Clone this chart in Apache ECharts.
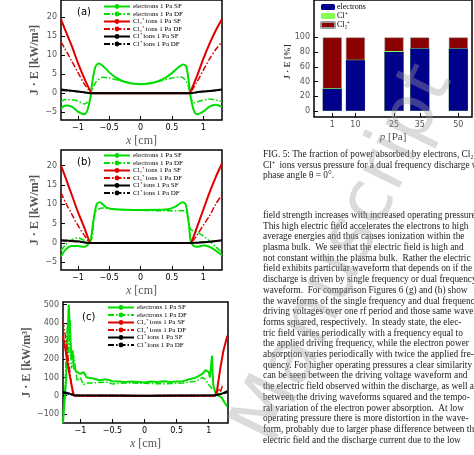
<!DOCTYPE html>
<html>
<head>
<meta charset="utf-8">
<script src="https://cdn.jsdelivr.net/npm/echarts@6/dist/echarts.min.js"></script>
<style>
  html, body { margin: 0; padding: 0; background: #fff; }
  #main { width: 474px; height: 455px; }
</style>
</head>
<body>
<div id="main"></div>
<script>
// panel (a): 1 Pa, J.E profiles [x, kW/m3]
var aElecSF = [[-1.27,-4],[-1.2,-3.2],[-1.1,-3.5],[-1.0,-4.8],[-0.9,-5.5],[-0.85,-4.5],[-0.8,-1],[-0.77,3],[-0.72,7],[-0.67,7.8],[-0.6,7.2],[-0.5,5.5],[-0.4,4.2],[-0.3,3.3],[-0.2,2.8],[-0.1,2.5],[0,2.4],[0.1,2.5],[0.2,2.8],[0.3,3.3],[0.4,4.1],[0.5,5.3],[0.6,6.8],[0.68,7.6],[0.73,7],[0.77,3],[0.8,-1],[0.85,-4.5],[0.9,-5.5],[1.0,-4.8],[1.1,-3.5],[1.2,-3.0],[1.3,-3.6]];
var aElecDF = [[-1.27,-2.2],[-1.2,-1.6],[-1.1,-1.7],[-1.0,-2.0],[-0.9,-2.8],[-0.82,-2],[-0.78,0.5],[-0.72,2.8],[-0.6,4.2],[-0.5,4.0],[-0.3,3.2],[0,2.4],[0.3,3.2],[0.5,4.0],[0.65,4.3],[0.75,2.5],[0.8,-1],[0.85,-2.5],[0.95,-2],[1.1,-1.5],[1.3,-2.2]];
var aCl2SF = [[-1.27,19.5],[-1.2,16.5],[-1.1,12.5],[-1.0,8],[-0.9,4],[-0.8,0.5],[-0.78,0],[0.78,0],[0.8,0.5],[0.9,4.5],[1.0,9],[1.1,13],[1.2,16.5],[1.3,19.5]];
var aCl2DF = [[-1.27,13.5],[-1.2,11.5],[-1.1,8.5],[-1.0,5.5],[-0.9,2.5],[-0.8,0.3],[-0.78,0],[0.78,0],[0.8,0.3],[0.9,3],[1.0,6],[1.1,9],[1.2,11.5],[1.3,13.5]];
var aClSF = [[-1.27,1],[-1.1,0.7],[-0.9,0.3],[-0.8,0.05],[0,0],[0.8,0.05],[0.9,0.3],[1.1,0.6],[1.3,1]];
var aClDF = [[-1.27,0.8],[-1.1,0.6],[-0.9,0.25],[-0.8,0.05],[0,0],[0.8,0.05],[0.9,0.3],[1.1,0.6],[1.3,0.9]];

// panel (b)
var bElecSF = [[-1.27,-3.5],[-1.2,-1.8],[-1.1,-0.8],[-1.0,-0.8],[-0.9,-1],[-0.85,-0.6],[-0.8,0.5],[-0.75,6],[-0.7,10],[-0.65,10.5],[-0.55,9.2],[-0.4,8.7],[0,8.5],[0.4,8.6],[0.55,9.3],[0.67,10.5],[0.72,10],[0.77,5],[0.8,0.5],[0.85,-0.8],[0.9,-1],[1.0,-0.7],[1.1,-1],[1.2,-2],[1.3,-3.2]];
var bElecDF = [[-1.27,-2],[-1.2,-0.5],[-1.1,0.8],[-1.0,1.3],[-0.92,0.8],[-0.85,0.2],[-0.78,1],[-0.72,8],[-0.6,9],[-0.4,8.6],[0,8.4],[0.4,8.3],[0.7,8.3],[0.76,6],[0.8,3.5],[0.9,2.8],[1.0,1.8],[1.1,0.5],[1.2,-1],[1.3,-2.4]];
var bCl2SF = [[-1.27,20],[-1.2,17],[-1.1,12.5],[-1.0,8],[-0.9,4],[-0.82,0.5],[-0.8,0],[0.8,0],[0.82,0.5],[0.9,4],[1.0,8.5],[1.1,13],[1.2,17],[1.3,20.5]];
var bCl2DF = [[-1.27,13],[-1.2,10.5],[-1.1,7.5],[-1.0,4.5],[-0.9,2],[-0.82,0.2],[-0.8,0],[0.8,0],[0.82,0.2],[0.9,2],[1.0,4.5],[1.1,7],[1.2,10],[1.3,12.5]];
var bClSF = [[-1.27,0.7],[-1.0,0.4],[-0.85,0.05],[0,0],[0.85,0.05],[1.1,0.3],[1.3,0.7]];
var bClDF = [[-1.27,0.6],[-1.0,0.3],[-0.85,0.05],[0,0],[0.85,0.05],[1.1,0.3],[1.3,0.6]];

// panel (c)
var cElecSF = [[-1.27,-150],[-1.25,-50],[-1.22,100],[-1.2,300],[-1.18,500],[-1.16,350],[-1.14,200],[-1.12,250],[-1.1,150],[-1.05,130],[-1.0,120],[-0.95,130],[-0.9,100],[-0.8,95],[-0.7,85],[-0.6,90],[-0.5,80],[-0.4,78],[-0.3,75],[-0.2,78],[-0.1,75],[0,72],[0.1,78],[0.2,75],[0.3,80],[0.4,75],[0.5,78],[0.6,80],[0.7,90],[0.8,100],[0.9,120],[0.95,140],[1.0,130],[1.02,100],[1.05,220],[1.07,60],[1.1,20],[1.15,0],[1.2,-10],[1.25,-40],[1.29,-60]];
var cElecDF = [[-1.27,-100],[-1.24,0],[-1.22,250],[-1.2,400],[-1.18,220],[-1.16,420],[-1.14,150],[-1.1,220],[-1.05,80],[-1.0,100],[-0.95,60],[-0.9,70],[-0.8,70],[-0.6,75],[-0.5,65],[-0.3,70],[0,68],[0.3,65],[0.6,70],[0.8,80],[0.9,100],[0.95,90],[1.0,60],[1.05,40],[1.1,30],[1.15,10],[1.29,20]];
var cCl2SF = [[-1.27,330],[-1.22,230],[-1.17,120],[-1.12,30],[-1.1,0],[1.1,0],[1.13,30],[1.18,150],[1.23,250],[1.29,330]];
var cCl2DF = [[-1.27,410],[-1.23,320],[-1.18,180],[-1.14,60],[-1.11,0],[1.11,0],[1.15,40],[1.18,20],[1.22,60]];
var cClSF = [[-1.27,20],[-1.2,15],[-1.1,3],[0,0],[1.1,3],[1.2,10],[1.29,25]];
var cClDF = [[-1.27,15],[-1.2,10],[-1.1,2],[0,0],[1.1,2],[1.2,8],[1.29,18]];

// bar chart: power fraction (%) vs pressure
var pressures = [1, 10, 25, 35, 50];
var fracElectrons = [30, 69, 80, 85, 85];
var fracClPlus = [1, 0.4, 1.5, 0.4, 0.6];
var fracCl2Plus = [69, 30.6, 18.5, 14.6, 14.4];

var xTicks = [-1, -0.5, 0, 0.5, 1];
var yTicksAB = [-5, 0, 5, 10, 15, 20];
var yTicksC = [-100, 0, 100, 200, 300, 400, 500];
var barTicks = [0, 20, 40, 60, 80, 100];

var names = ['electrons 1 Pa SF', 'electrons 1 Pa DF', 'Cl\u2082\u207a ions 1 Pa SF', 'Cl\u2082\u207a ions 1 Pa DF', 'Cl\u207a ions 1 Pa SF', 'Cl\u207a ions 1 Pa DF'];
var colors = ['#00dd00', '#00dd00', '#e00000', '#e00000', '#000', '#000'];
var dashDot = [6, 2, 1.5, 2];

var serif = 'Liberation Serif';
var sans = 'DejaVu Sans';

var chart = echarts.init(document.getElementById('main'));

function lineSeries(idx, datas, smooth) {
  return datas.map(function (d, i) {
    return {
      name: names[i], type: 'line', xAxisIndex: idx, yAxisIndex: idx,
      data: d, symbol: 'none', smooth: smooth, animation: false,
      lineStyle: { color: colors[i], width: i % 2 ? 1.5 : 2, type: i % 2 ? dashDot : 'solid' },
      itemStyle: { color: colors[i] }
    };
  });
}

function tickStyle(vals) {
  return { inside: true, length: 4, customValues: vals, lineStyle: { color: '#000' } };
}

function xAx(idx) {
  return {
    type: 'value', gridIndex: idx, min: -1.27, max: 1.3, position: 'bottom',
    name: '{i|x} [cm]', nameLocation: 'middle', nameGap: 15,
    nameTextStyle: { fontFamily: serif, fontSize: 12, rich: { i: { fontStyle: 'italic', fontFamily: serif, fontSize: 12 } } },
    axisLine: { show: false, onZero: false }, splitLine: { show: false },
    axisTick: tickStyle(xTicks),
    axisLabel: { fontSize: 8, color: '#000', fontFamily: sans, margin: 4, customValues: xTicks,
      formatter: function (v) { return String(v).replace('-', '\u2212'); } }
  };
}

function yAx(idx, mn, mx, ticks) {
  return {
    type: 'value', gridIndex: idx, min: mn, max: mx, position: 'left',
    name: 'J \u00b7 E [kW/m\u00b3]', nameLocation: 'middle', nameGap: idx == 2 ? 30 : 20,
    nameTextStyle: { fontFamily: serif, fontSize: 12, fontWeight: 'bold' },
    axisLine: { show: false, onZero: false }, splitLine: { show: false },
    axisTick: tickStyle(ticks),
    axisLabel: { fontSize: 8, color: '#555', fontFamily: sans, margin: 4, customValues: ticks,
      formatter: function (v) { return String(v).replace('-', '\u2212'); } }
  };
}

function legendAt(top, left) {
  return {
    data: names, orient: 'vertical', left: left, top: top, itemGap: 0.5,
    itemWidth: 26, itemHeight: 6, padding: 0, selectedMode: false,
    textStyle: { fontFamily: serif, fontSize: 7, color: '#000', padding: [0, 0, 0, -2] }
  };
}

var paragraph = [
  'field strength increases with increased operating pressure.',
  'This high electric field accelerates the electrons to high',
  'average energies and thus causes ionization within the',
  'plasma bulk.  We see that the electric field is high and',
  'not constant within the plasma bulk.  Rather the electric',
  'field exhibits particular waveform that depends on if the',
  'discharge is driven by single frequency or dual frequency',
  'waveform.  For comparison Figures 6 (g) and (h) show',
  'the waveforms of the single frequency and dual frequency',
  'driving voltages over one rf period and those same wave-',
  'forms squared, respectively.  In steady state, the elec-',
  'tric field varies periodically with a frequency equal to',
  'the applied driving frequency, while the electron power',
  'absorption varies periodically with twice the applied fre-',
  'quency. For higher operating pressures a clear similarity',
  'can be seen between the driving voltage waveform and',
  'the electric field observed within the discharge, as well as',
  'between the driving waveforms squared and the tempo-',
  'ral variation of the electron power absorption.  At low',
  'operating pressure there is more distortion in the wave-',
  'form, probably due to larger phase difference between the',
  'electric field and the discharge current due to the low'
];
var caption = [
  'FIG. 5: The fraction of power absorbed by electrons, Cl\u2082\u207a and',
  'Cl\u207a  ions versus pressure for a dual frequency discharge with',
  'phase angle \u03b8 = 0\u00b0.'
];

var graphics = [
  { type: 'text', left: 77, top: 7, style: { text: '(a)', font: '10px ' + sans, fill: '#000' } },
  { type: 'text', left: 77, top: 157, style: { text: '(b)', font: '10px ' + sans, fill: '#000' } },
  { type: 'text', left: 82, top: 312, style: { text: '(c)', font: '10px ' + sans, fill: '#000' } },
  { type: 'text', x: 288, y: 62, rotation: Math.PI / 2,
    style: { text: 'J \u00b7 E [%]', font: 'bold 9px ' + serif, fill: '#333', align: 'center', verticalAlign: 'middle' } }
];
caption.forEach(function (t, i) {
  graphics.push({ type: 'text', left: 263, top: 150 + i * 10.7, style: { text: t, font: '9.3px ' + serif, fill: '#222' } });
});
paragraph.forEach(function (t, i) {
  graphics.push({ type: 'text', left: 263, top: 211 + i * 10.7, style: { text: t, font: '9.3px ' + serif, fill: '#222' } });
});
graphics.push({
  type: 'text', x: 345, y: 255, rotation: 64 * Math.PI / 180, z: 100,
  style: { text: 'Manuscript', font: '74px ' + sans, fill: 'rgba(160,160,160,0.38)', align: 'center', verticalAlign: 'middle' }
});

// overlapping bars: total height per layer, drawn back to front
var topCl2 = pressures.map(function (p, i) { return [p, fracElectrons[i] + fracClPlus[i] + fracCl2Plus[i]]; });
var topCl = pressures.map(function (p, i) { return [p, fracElectrons[i] + fracClPlus[i]]; });
var topEl = pressures.map(function (p, i) { return [p, fracElectrons[i]]; });

var option = {
  backgroundColor: '#fff',
  animation: false,
  grid: [
    { left: 61, top: -2, width: 161, height: 122, show: true, borderColor: '#000', borderWidth: 1.5 },
    { left: 61, top: 150, width: 161, height: 120, show: true, borderColor: '#000', borderWidth: 1.5 },
    { left: 63, top: 302, width: 165, height: 121, show: true, borderColor: '#000', borderWidth: 1.5 },
    { left: 314, top: -1, width: 158, height: 118, show: true, borderColor: '#000', borderWidth: 1.5 }
  ],
  legend: [
    legendAt(3, 103), legendAt(152, 103), legendAt(304, 107),
    { data: ['electrons', 'Cl\u207a', 'Cl\u2082\u207a'], orient: 'vertical', left: 320, top: 3, itemGap: 1,
      itemWidth: 14, itemHeight: 6, padding: 0, selectedMode: false,
      textStyle: { fontFamily: serif, fontSize: 8, color: '#000', padding: [0, 0, 0, -3] } }
  ],
  xAxis: [xAx(0), xAx(1), xAx(2), {
    type: 'value', gridIndex: 3, min: -6.1, max: 55.3, position: 'bottom',
    name: '{i|p} [Pa]', nameLocation: 'middle', nameGap: 15,
    nameTextStyle: { fontFamily: serif, fontSize: 11, rich: { i: { fontStyle: 'italic', fontFamily: serif, fontSize: 11 } } },
    axisLine: { show: false, onZero: false }, splitLine: { show: false },
    axisTick: tickStyle(pressures),
    axisLabel: { fontSize: 8, color: '#555', fontFamily: sans, margin: 4, customValues: pressures }
  }],
  yAxis: [yAx(0, -7, 24.5, yTicksAB), yAx(1, -7, 24, yTicksAB), yAx(2, -150, 515, yTicksC), {
    type: 'value', gridIndex: 3, min: -8.5, max: 151, position: 'left',
    axisLine: { show: false, onZero: false }, splitLine: { show: false },
    axisTick: tickStyle(barTicks),
    axisLabel: { fontSize: 8, color: '#555', fontFamily: sans, margin: 4, customValues: barTicks }
  }],
  series: [].concat(
    lineSeries(0, [aElecSF, aElecDF, aCl2SF, aCl2DF, aClSF, aClDF], 0.3),
    lineSeries(1, [bElecSF, bElecDF, bCl2SF, bCl2DF, bClSF, bClDF], 0.3),
    lineSeries(2, [cElecSF, cElecDF, cCl2SF, cCl2DF, cClSF, cClDF], false),
    [
      { name: 'Cl\u2082\u207a', type: 'bar', xAxisIndex: 3, yAxisIndex: 3, barWidth: 19, barGap: '-100%',
        data: topCl2, itemStyle: { color: '#8b0000', borderColor: '#999', borderWidth: 0.5 } },
      { name: 'Cl\u207a', type: 'bar', xAxisIndex: 3, yAxisIndex: 3, barWidth: 19, barGap: '-100%',
        data: topCl, itemStyle: { color: '#80ff50' } },
      { name: 'electrons', type: 'bar', xAxisIndex: 3, yAxisIndex: 3, barWidth: 19, barGap: '-100%',
        data: topEl, itemStyle: { color: '#00008b' } }
    ]
  ),
  graphic: graphics
};
chart.setOption(option);
</script>
</body>
</html>
